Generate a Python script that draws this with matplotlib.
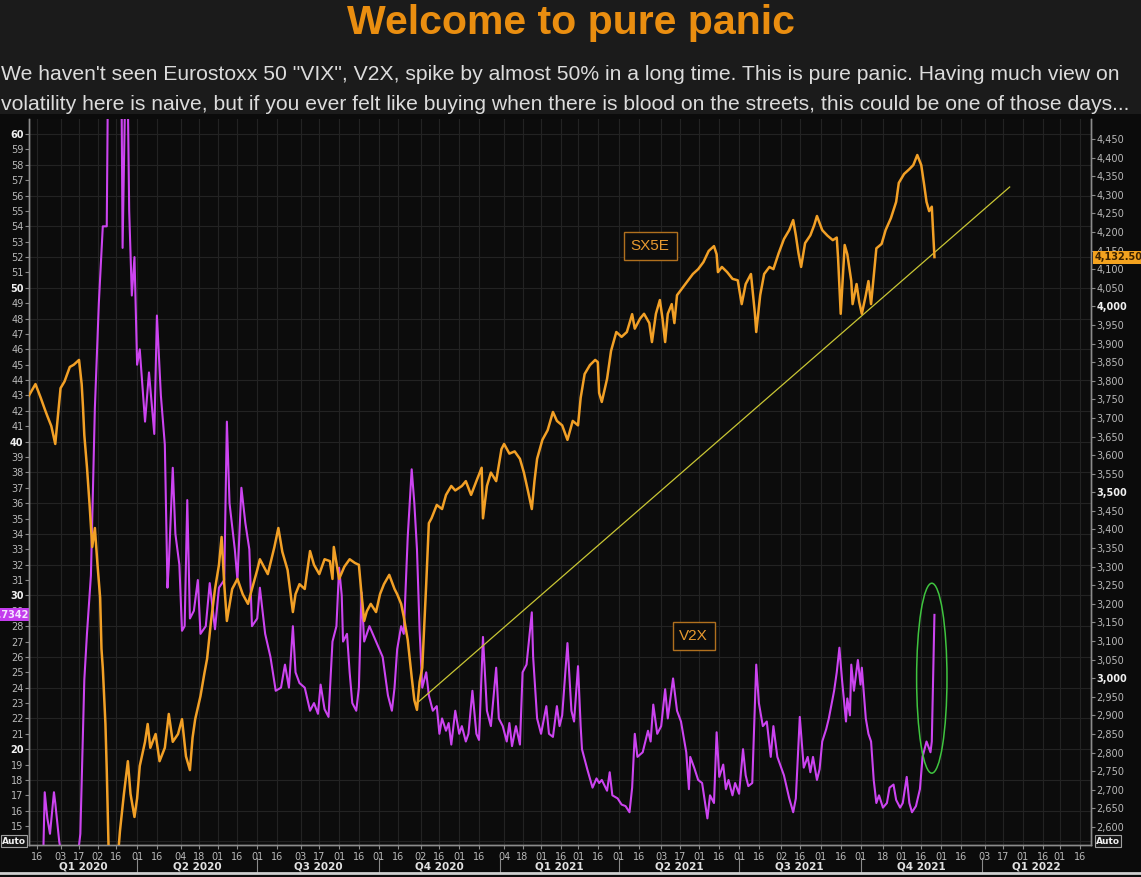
import pandas as pd
import matplotlib
matplotlib.use("Agg")
import matplotlib.pyplot as plt
import matplotlib.dates as mdates
from matplotlib.patches import Ellipse, Rectangle
from matplotlib.lines import Line2D
from matplotlib.transforms import blended_transform_factory

# V2X (left axis)
v2x_dates = [
    "2020-01-10", "2020-01-18", "2020-01-21", "2020-01-22", "2020-01-24", "2020-01-26", "2020-01-29", "2020-01-30",
    "2020-02-02", "2020-02-04", "2020-02-16", "2020-02-18", "2020-02-21", "2020-02-23", "2020-02-26", "2020-02-29",
    "2020-03-03", "2020-03-06", "2020-03-09", "2020-03-11", "2020-03-13", "2020-03-16", "2020-03-19", "2020-03-21",
    "2020-03-23", "2020-03-25", "2020-03-26", "2020-03-28", "2020-03-30", "2020-04-01", "2020-04-03", "2020-04-07",
    "2020-04-10", "2020-04-14", "2020-04-16", "2020-04-19", "2020-04-22", "2020-04-24", "2020-04-25", "2020-04-28",
    "2020-04-30", "2020-05-03", "2020-05-05", "2020-05-07", "2020-05-09", "2020-05-11", "2020-05-14", "2020-05-17",
    "2020-05-19", "2020-05-23", "2020-05-26", "2020-05-30", "2020-06-02", "2020-06-06", "2020-06-08", "2020-06-10",
    "2020-06-14", "2020-06-16", "2020-06-19", "2020-06-22", "2020-06-25", "2020-06-27", "2020-07-01", "2020-07-03",
    "2020-07-07", "2020-07-11", "2020-07-15", "2020-07-19", "2020-07-22", "2020-07-25", "2020-07-28", "2020-07-30",
    "2020-08-02", "2020-08-06", "2020-08-10", "2020-08-13", "2020-08-16", "2020-08-18", "2020-08-21", "2020-08-24",
    "2020-08-27", "2020-08-30", "2020-09-01", "2020-09-03", "2020-09-04", "2020-09-07", "2020-09-09", "2020-09-11",
    "2020-09-14", "2020-09-16", "2020-09-18", "2020-09-20", "2020-09-24", "2020-09-29", "2020-10-04", "2020-10-08",
    "2020-10-11", "2020-10-13", "2020-10-15", "2020-10-18", "2020-10-20", "2020-10-23", "2020-10-26", "2020-10-28",
    "2020-10-30", "2020-11-01", "2020-11-03", "2020-11-06", "2020-11-08", "2020-11-11", "2020-11-14", "2020-11-16",
    "2020-11-18", "2020-11-21", "2020-11-23", "2020-11-25", "2020-11-28", "2020-12-01", "2020-12-03", "2020-12-06",
    "2020-12-08", "2020-12-11", "2020-12-14", "2020-12-16", "2020-12-19", "2020-12-22", "2020-12-25", "2020-12-29",
    "2020-12-31", "2021-01-03", "2021-01-06", "2021-01-08", "2021-01-10", "2021-01-13", "2021-01-16", "2021-01-18",
    "2021-01-21", "2021-01-25", "2021-01-26", "2021-01-29", "2021-02-01", "2021-02-05", "2021-02-07", "2021-02-10",
    "2021-02-13", "2021-02-15", "2021-02-17", "2021-02-21", "2021-02-24", "2021-02-26", "2021-03-01", "2021-03-03",
    "2021-03-04", "2021-03-08", "2021-03-12", "2021-03-15", "2021-03-17", "2021-03-19", "2021-03-23", "2021-03-25",
    "2021-03-27", "2021-03-31", "2021-04-03", "2021-04-06", "2021-04-09", "2021-04-11", "2021-04-13", "2021-04-15",
    "2021-04-19", "2021-04-23", "2021-04-25", "2021-04-27", "2021-04-30", "2021-05-03", "2021-05-06", "2021-05-08",
    "2021-05-10", "2021-05-12", "2021-05-15", "2021-05-18", "2021-05-22", "2021-05-24", "2021-05-25", "2021-05-28",
    "2021-05-31", "2021-06-03", "2021-06-07", "2021-06-09", "2021-06-12", "2021-06-14", "2021-06-16", "2021-06-19",
    "2021-06-21", "2021-06-23", "2021-06-26", "2021-06-28", "2021-07-01", "2021-07-04", "2021-07-06", "2021-07-08",
    "2021-07-11", "2021-07-14", "2021-07-16", "2021-07-19", "2021-07-22", "2021-07-25", "2021-07-27", "2021-07-30",
    "2021-08-04", "2021-08-08", "2021-08-11", "2021-08-13", "2021-08-16", "2021-08-19", "2021-08-22", "2021-08-24",
    "2021-08-26", "2021-08-29", "2021-08-31", "2021-09-02", "2021-09-05", "2021-09-07", "2021-09-11", "2021-09-13",
    "2021-09-15", "2021-09-17", "2021-09-20", "2021-09-21", "2021-09-23", "2021-09-24", "2021-09-26", "2021-09-29",
    "2021-10-01", "2021-10-02", "2021-10-05", "2021-10-07", "2021-10-09", "2021-10-11", "2021-10-13", "2021-10-15",
    "2021-10-18", "2021-10-21", "2021-10-23", "2021-10-26", "2021-10-28", "2021-10-31", "2021-11-02", "2021-11-05",
    "2021-11-07", "2021-11-09", "2021-11-12", "2021-11-15", "2021-11-17", "2021-11-20", "2021-11-23", "2021-11-24",
    "2021-11-26",
]
v2x_vals = [
    13.0, 13.0, 13.5, 17.2, 15.5, 14.5, 17.2, 16.5,
    14.0, 13.0, 13.0, 14.5, 24.5, 27.5, 31.3, 42.2,
    49.0, 54.0, 54.0, 75.0, 70.0, 85.0, 78.0, 52.6,
    63.0, 62.0, 55.0, 49.5, 52.0, 45.0, 46.0, 41.3,
    44.5, 40.5, 48.2, 43.0, 39.8, 30.5, 32.0, 38.3,
    34.0, 32.0, 27.7, 28.0, 36.2, 28.5, 29.0, 31.0,
    27.5, 28.0, 30.8, 27.8, 30.5, 31.0, 41.3, 36.0,
    33.0, 31.0, 37.0, 34.7, 33.0, 28.0, 28.5, 30.5,
    27.5, 26.0, 23.8, 24.0, 25.5, 24.0, 28.0, 25.0,
    24.3, 24.0, 22.5, 23.0, 22.3, 24.2, 22.6, 22.1,
    27.0, 28.0, 31.8, 30.0, 27.0, 27.5, 25.0, 23.0,
    22.5, 24.0, 30.2, 27.0, 28.0, 27.0, 26.0, 23.5,
    22.5, 24.0, 26.5, 28.0, 27.5, 33.8, 38.2, 36.0,
    33.0, 27.7, 24.0, 25.0, 23.5, 22.5, 22.8, 21.0,
    22.0, 21.2, 21.7, 20.3, 22.5, 21.0, 21.5, 20.5,
    21.0, 23.8, 21.0, 20.6, 27.3, 22.5, 21.5, 25.3,
    22.0, 21.5, 20.5, 21.7, 20.2, 21.5, 20.3, 25.0,
    25.5, 28.9, 26.0, 22.0, 21.0, 22.8, 21.0, 20.8,
    22.8, 21.5, 22.2, 26.9, 22.5, 21.8, 25.4, 21.5,
    20.0, 18.7, 17.5, 18.1, 17.8, 18.0, 17.3, 18.5,
    17.0, 16.8, 16.4, 16.3, 15.9, 17.5, 21.0, 19.5,
    19.8, 21.2, 20.5, 22.9, 21.0, 21.5, 23.9, 22.0,
    23.3, 24.6, 22.5, 21.8, 19.8, 17.4, 19.5, 18.8,
    18.0, 17.8, 15.5, 17.0, 16.5, 21.1, 18.2, 19.0,
    17.4, 18.0, 17.0, 17.8, 17.1, 20.0, 18.3, 17.6,
    17.8, 25.5, 23.0, 21.5, 21.8, 19.5, 21.5, 19.5,
    18.3, 16.8, 15.9, 16.8, 22.1, 18.8, 19.5, 18.5,
    19.5, 18.0, 18.7, 20.5, 21.3, 22.0, 23.8, 25.0,
    26.6, 24.5, 21.8, 23.3, 22.2, 25.5, 23.8, 25.8,
    24.2, 25.3, 22.0, 21.0, 20.5, 18.0, 16.5, 17.0,
    16.2, 16.5, 17.5, 17.7, 16.7, 16.2, 16.5, 18.2,
    16.5, 15.9, 16.3, 17.4, 19.5, 20.5, 19.8, 20.5,
    28.7342,
]

# SX5E (right axis)
sx5e_dates = [
    "2020-01-10", "2020-01-15", "2020-01-19", "2020-01-22", "2020-01-24", "2020-01-27", "2020-01-30", "2020-02-01",
    "2020-02-03", "2020-02-06", "2020-02-10", "2020-02-13", "2020-02-17", "2020-02-19", "2020-02-20", "2020-02-21",
    "2020-02-23", "2020-02-25", "2020-02-27", "2020-02-29", "2020-03-02", "2020-03-04", "2020-03-05", "2020-03-06",
    "2020-03-08", "2020-03-09", "2020-03-11", "2020-03-13", "2020-03-16", "2020-03-17", "2020-03-19", "2020-03-22",
    "2020-03-25", "2020-03-27", "2020-03-30", "2020-04-01", "2020-04-03", "2020-04-07", "2020-04-09", "2020-04-11",
    "2020-04-15", "2020-04-18", "2020-04-22", "2020-04-25", "2020-04-28", "2020-05-02", "2020-05-05", "2020-05-08",
    "2020-05-11", "2020-05-13", "2020-05-15", "2020-05-19", "2020-05-22", "2020-05-24", "2020-05-27", "2020-05-30",
    "2020-06-02", "2020-06-04", "2020-06-06", "2020-06-08", "2020-06-12", "2020-06-16", "2020-06-20", "2020-06-24",
    "2020-06-27", "2020-07-01", "2020-07-03", "2020-07-09", "2020-07-14", "2020-07-17", "2020-07-20", "2020-07-24",
    "2020-07-28", "2020-07-30", "2020-08-02", "2020-08-06", "2020-08-10", "2020-08-13", "2020-08-17", "2020-08-21",
    "2020-08-25", "2020-08-27", "2020-08-28", "2020-09-01", "2020-09-05", "2020-09-09", "2020-09-13", "2020-09-16",
    "2020-09-18", "2020-09-20", "2020-09-22", "2020-09-25", "2020-09-29", "2020-10-02", "2020-10-05", "2020-10-09",
    "2020-10-13", "2020-10-15", "2020-10-18", "2020-10-20", "2020-10-23", "2020-10-26", "2020-10-28", "2020-10-30",
    "2020-11-01", "2020-11-03", "2020-11-06", "2020-11-08", "2020-11-10", "2020-11-14", "2020-11-18", "2020-11-21",
    "2020-11-25", "2020-11-28", "2020-12-03", "2020-12-06", "2020-12-10", "2020-12-14", "2020-12-18", "2020-12-19",
    "2020-12-22", "2020-12-25", "2020-12-29", "2021-01-02", "2021-01-04", "2021-01-08", "2021-01-12", "2021-01-16",
    "2021-01-19", "2021-01-22", "2021-01-25", "2021-01-27", "2021-01-29", "2021-02-02", "2021-02-06", "2021-02-10",
    "2021-02-13", "2021-02-17", "2021-02-21", "2021-02-25", "2021-03-01", "2021-03-03", "2021-03-06", "2021-03-10",
    "2021-03-14", "2021-03-16", "2021-03-17", "2021-03-19", "2021-03-23", "2021-03-26", "2021-03-30", "2021-04-03",
    "2021-04-07", "2021-04-11", "2021-04-13", "2021-04-17", "2021-04-20", "2021-04-24", "2021-04-26", "2021-04-29",
    "2021-05-02", "2021-05-04", "2021-05-06", "2021-05-08", "2021-05-11", "2021-05-13", "2021-05-15", "2021-05-19",
    "2021-05-23", "2021-05-27", "2021-05-31", "2021-06-04", "2021-06-08", "2021-06-12", "2021-06-14", "2021-06-15",
    "2021-06-18", "2021-06-22", "2021-06-26", "2021-06-30", "2021-07-03", "2021-07-06", "2021-07-10", "2021-07-13",
    "2021-07-14", "2021-07-17", "2021-07-20", "2021-07-24", "2021-07-27", "2021-07-31", "2021-08-04", "2021-08-08",
    "2021-08-11", "2021-08-13", "2021-08-15", "2021-08-17", "2021-08-20", "2021-08-24", "2021-08-27", "2021-08-29",
    "2021-09-02", "2021-09-06", "2021-09-10", "2021-09-13", "2021-09-14", "2021-09-16", "2021-09-19", "2021-09-21",
    "2021-09-24", "2021-09-25", "2021-09-28", "2021-09-30", "2021-10-02", "2021-10-05", "2021-10-07", "2021-10-09",
    "2021-10-11", "2021-10-13", "2021-10-17", "2021-10-20", "2021-10-24", "2021-10-28", "2021-10-30", "2021-11-03",
    "2021-11-07", "2021-11-10", "2021-11-13", "2021-11-16", "2021-11-18", "2021-11-20", "2021-11-22", "2021-11-24",
    "2021-11-26",
]
sx5e_vals = [
    3760, 3791, 3754, 3724, 3705, 3678, 3630, 3705,
    3780, 3798, 3837, 3843, 3856, 3791, 3729, 3654,
    3568, 3466, 3353, 3404, 3305, 3216, 3079, 3028,
    2877, 2753, 2450, 2400, 2420, 2500, 2589, 2689,
    2777, 2689, 2627, 2677, 2764, 2829, 2877, 2813,
    2850, 2777, 2813, 2904, 2829, 2850, 2890, 2790,
    2753, 2840, 2890, 2952, 3014, 3052, 3154, 3240,
    3305, 3380, 3253, 3154, 3240, 3267, 3226, 3200,
    3240, 3291, 3320, 3280, 3353, 3404, 3340, 3291,
    3178, 3226, 3253, 3240, 3342, 3305, 3280, 3320,
    3315, 3267, 3353, 3267, 3300, 3320, 3310, 3305,
    3226, 3154, 3180, 3200, 3178, 3226, 3253, 3278,
    3240, 3226, 3200, 3165, 3103, 3003, 2941, 2915,
    2990, 3028, 3253, 3417, 3430, 3466, 3455, 3493,
    3517, 3505, 3517, 3530, 3493, 3530, 3566, 3430,
    3517, 3553, 3530, 3616, 3630, 3604, 3610, 3590,
    3553, 3505, 3455, 3530, 3590, 3641, 3667, 3716,
    3692, 3680, 3641, 3692, 3680, 3754, 3818, 3842,
    3856, 3850, 3767, 3743, 3805, 3880, 3931, 3918,
    3931, 3979, 3940, 3967, 3980, 3955, 3904, 3980,
    4017, 3967, 3904, 3980, 4006, 3955, 4030, 4049,
    4068, 4087, 4100, 4119, 4149, 4162, 4140, 4092,
    4106, 4092, 4074, 4070, 4006, 4060, 4087, 3980,
    3931, 4030, 4087, 4106, 4100, 4143, 4181, 4205,
    4232, 4191, 4143, 4106, 4170, 4191, 4219, 4243,
    4205, 4190, 4178, 4185, 4130, 3980, 4165, 4140,
    4068, 4006, 4060, 4012, 3980, 4030, 4068, 4006,
    4080, 4156, 4168, 4205, 4237, 4281, 4332, 4356,
    4369, 4380, 4407, 4380, 4332, 4281, 4256, 4268,
    4132.5,
]

# support line drawn on SX5E
trend_dates = ["2020-10-30", "2022-01-22"]
trend_vals = [2933, 4321]

tick_dates = [
    "2020-01-16", "2020-02-03", "2020-02-17", "2020-03-02", "2020-03-16", "2020-04-01", "2020-04-16", "2020-05-04",
    "2020-05-18", "2020-06-01", "2020-06-16", "2020-07-01", "2020-07-16", "2020-08-03", "2020-08-17", "2020-09-01",
    "2020-09-16", "2020-10-01", "2020-10-16", "2020-11-02", "2020-11-16", "2020-12-01", "2020-12-16", "2021-01-04",
    "2021-01-18", "2021-02-01", "2021-02-16", "2021-03-01", "2021-03-16", "2021-04-01", "2021-04-16", "2021-05-03",
    "2021-05-17", "2021-06-01", "2021-06-16", "2021-07-01", "2021-07-16", "2021-08-02", "2021-08-16", "2021-09-01",
    "2021-09-16", "2021-10-01", "2021-10-18", "2021-11-01", "2021-11-16", "2021-12-01", "2021-12-16", "2022-01-03",
    "2022-01-17", "2022-02-01", "2022-02-16", "2022-03-01", "2022-03-16",
]
quarter_starts = ["2020-01-01", "2020-04-01", "2020-07-01", "2020-10-01", "2021-01-01",
                  "2021-04-01", "2021-07-01", "2021-10-01", "2022-01-01", "2022-04-01"]
quarter_names = ["Q1 2020", "Q2 2020", "Q3 2020", "Q4 2020", "Q1 2021",
                 "Q2 2021", "Q3 2021", "Q4 2021", "Q1 2022"]

title = "Welcome to pure panic"
subtitle = [
    "We haven't seen Eurostoxx 50 \"VIX\", V2X, spike by almost 50% in a long time. This is pure panic. Having much view on",
    "volatility here is naive, but if you ever felt like buying when there is blood on the streets, this could be one of those days...",
]

ORANGE = "#f2a026"
MAGENTA = "#cc44f0"
GRID = "#232323"
TXT = "#b9b9b9"

W, H = 1141, 877
fig = plt.figure(figsize=(W / 100, H / 100), dpi=100, facecolor="#0b0b0b")
fig.patches.append(Rectangle((0, 1 - 114 / H), 1, 114 / H, transform=fig.transFigure,
                             facecolor="#1b1b1b", edgecolor="none", zorder=-1))
fig.text(0.5, 1 - 23 / H, title, ha="center", va="center", fontsize=29.5, fontweight="bold",
         color="#ea8e10", family="Liberation Sans")
for i, line in enumerate(subtitle):
    fig.text(1 / W, 1 - (74 + 30 * i) / H, line, ha="left", va="center", fontsize=15.2,
             color="#dcdcdc", family="Liberation Sans")

ax = fig.add_axes([29 / W, 1 - 845 / H, (1091 - 29) / W, (845 - 119) / H])
ax.set_facecolor("#0c0c0c")
ax2 = ax.twinx()

d_v2x = pd.to_datetime(v2x_dates)
d_sx = pd.to_datetime(sx5e_dates)
ticks = pd.to_datetime(tick_dates)
qs = pd.to_datetime(quarter_starts)

ax.plot(d_v2x, v2x_vals, color=MAGENTA, lw=1.5, zorder=3)
ax2.plot(d_sx, sx5e_vals, color=ORANGE, lw=1.8, zorder=3)
ax2.plot(pd.to_datetime(trend_dates), trend_vals, color="#c9c634", lw=0.9, zorder=2)

x0 = pd.Timestamp("2020-01-01") + pd.Timedelta(days=9.1)
x1 = pd.Timestamp("2020-01-01") + pd.Timedelta(days=813.6)
ax.set_xlim(x0, x1)
ax.set_ylim(13.77, 60.98)
ax2.set_ylim(2551.6, 4503.8)

# grid
for t in ticks:
    ax.axvline(t, color=GRID, lw=0.8, zorder=0)
for v in range(14, 61, 2):
    ax.axhline(v, color=GRID, lw=0.8, zorder=0)

# left axis
ax.set_yticks(range(15, 61))
ax.set_yticklabels([str(v) for v in range(15, 61)])
ax.tick_params(axis="y", which="both", direction="out", length=3, pad=1, color="#8a8a8a",
               labelsize=7, labelcolor=TXT)
for lab, v in zip(ax.get_yticklabels(), range(15, 61)):
    if v % 10 == 0:
        lab.set_fontweight("bold")
        lab.set_color("#f0f0f0")

# right axis
r_vals = list(range(2600, 4451, 50))
ax2.set_yticks(r_vals)
ax2.set_yticklabels([f"{v:,}" for v in r_vals])
ax2.tick_params(axis="y", direction="out", length=3, pad=1, color="#8a8a8a",
                labelsize=7, labelcolor=TXT)
for lab, v in zip(ax2.get_yticklabels(), r_vals):
    if v % 500 == 0:
        lab.set_fontweight("bold")
        lab.set_color("#f0f0f0")

# x axis
ax.set_xticks(ticks)
ax.xaxis.set_major_formatter(mdates.DateFormatter("%d"))
ax.tick_params(axis="x", direction="out", length=3, pad=2, color="#8a8a8a",
               labelsize=7, labelcolor=TXT)

for a in (ax, ax2):
    a.spines["top"].set_visible(False)
    for s in ("left", "right", "bottom"):
        a.spines[s].set_color("#8c8c8c")
        a.spines[s].set_linewidth(1.0)

bt = blended_transform_factory(ax.transData, ax.transAxes)
xl0, xl1 = mdates.date2num(x0), mdates.date2num(x1)
for i, name in enumerate(quarter_names):
    a0 = max(mdates.date2num(qs[i]), xl0)
    a1 = min(mdates.date2num(qs[i + 1]), xl1)
    ax.text((a0 + a1) / 2, -0.029, name, transform=bt, ha="center", va="center",
            fontsize=7.5, fontweight="bold", color="#e2e2e2", clip_on=False)
for q in qs[1:-1]:
    ax.add_line(Line2D([q, q], [-0.018, -0.038], transform=bt, color="#8a8a8a", lw=0.8,
                       clip_on=False))

# series name boxes
ax2.text(0.585, 0.825, "SX5E", transform=ax2.transAxes, ha="center", va="center",
         fontsize=11, color="#e89a30", family="Liberation Sans",
         bbox=dict(boxstyle="square,pad=0.45", facecolor="#0c0c0c", edgecolor="#b0701e", lw=1))
ax2.text(0.626, 0.288, "V2X", transform=ax2.transAxes, ha="center", va="center",
         fontsize=11, color="#e89a30", family="Liberation Sans",
         bbox=dict(boxstyle="square,pad=0.45", facecolor="#0c0c0c", edgecolor="#b0701e", lw=1))

# last value tags
ax.text(0, v2x_vals[-1], f"{v2x_vals[-1]:.4f}", transform=blended_transform_factory(ax.transAxes, ax.transData),
        ha="right", va="center", fontsize=7, fontweight="bold", color="#f4e4ff", clip_on=False,
        bbox=dict(boxstyle="square,pad=0.15", facecolor="#c43cee", edgecolor="none"))
ax2.text(1.003, sx5e_vals[-1], f"{sx5e_vals[-1]:,.2f}", transform=blended_transform_factory(ax2.transAxes, ax2.transData),
         ha="left", va="center", fontsize=7, fontweight="bold", color="#3a2200", clip_on=False,
         bbox=dict(boxstyle="square,pad=0.15", facecolor="#f3a21f", edgecolor="none"))

# green ellipse around the spike
cx = mdates.date2num(d_v2x[-1]) - 2
cy = (v2x_vals[-1] + v2x_vals[-2]) / 2
ax.add_patch(Ellipse((cx, cy), width=23, height=(v2x_vals[-1] - v2x_vals[-2]) * 1.5,
                     fill=False, edgecolor="#3fc43f", lw=1.1, zorder=4))

# Auto boxes
for xx in (2 / W, 1096 / W):
    fig.text(xx, 1 - 841 / H, "Auto", ha="left", va="center", fontsize=6.5, fontweight="bold",
             color="#f0f0f0", bbox=dict(boxstyle="square,pad=0.15", facecolor="#151515",
                                        edgecolor="#a0a0a0", lw=0.8))

fig.add_artist(Line2D([0, 1], [1 - 873 / H, 1 - 873 / H], transform=fig.transFigure,
                      color="#cfcfcf", lw=2))

fig.savefig("out.png", dpi=100, facecolor=fig.get_facecolor())
